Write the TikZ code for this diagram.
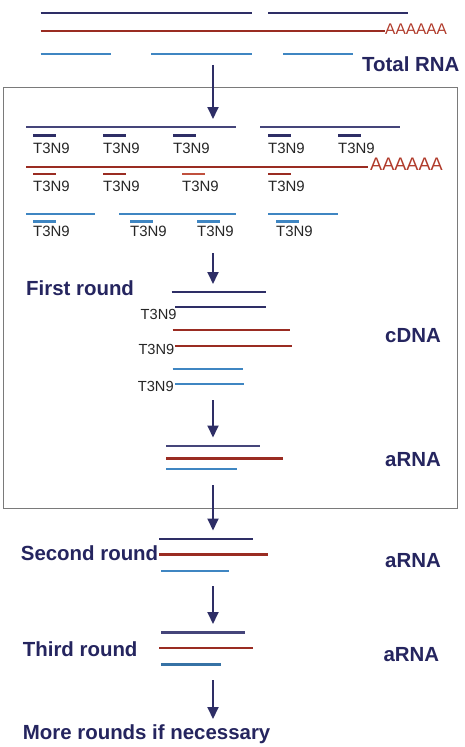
\documentclass[tikz,border=0pt]{standalone}
\usepackage{fontspec}
\setmainfont{Liberation Sans}
\usetikzlibrary{arrows.meta}
\definecolor{navyT}{HTML}{25255F}
\definecolor{navyL}{HTML}{2E2E66}
\definecolor{navyM}{HTML}{45457A}
\definecolor{redL}{HTML}{9A2C22}
\definecolor{redA}{HTML}{B03A2A}
\definecolor{redP}{HTML}{C0503E}
\definecolor{blueL}{HTML}{3F86C2}
\definecolor{boxC}{HTML}{7A7A7A}
\tikzset{
  navyline/.style={draw=navyL, line width=2.3bp},
  redline/.style={draw=redL, line width=2.3bp},
  blueline/.style={draw=blueL, line width=2.3bp},
  primer/.style={line width=2.8bp},
  flowarrow/.style={draw=navyL, line width=1.8bp, -{Triangle[width=11bp,length=12bp]}},
  boldlabel/.style={font=\fontsize{20.5}{24}\selectfont\bfseries, text=navyT, inner sep=0pt, anchor=base west},
  primlabel/.style={font=\fontsize{15}{17}\selectfont, text=black!85, inner sep=0pt, anchor=base west},
  polya/.style={text=redA, inner sep=0pt, anchor=base west},
}
\begin{document}
\begin{tikzpicture}[x=1bp,y=-1bp]
\path[use as bounding box, fill=white] (0,0) rectangle (465,747);

% ---------- Total RNA ----------
\draw[navyline] (40.7,12.7) -- (252,12.7);
\draw[navyline] (268,12.7) -- (408,12.7);
\draw[redline] (40.7,31) -- (385,31);
\node[polya, font=\fontsize{15.5}{17}\selectfont] (polyA1) at (385,35) {AAAAAA};
\draw[blueline] (40.7,54.3) -- (110.7,54.3);
\draw[blueline] (151,54.3) -- (251.7,54.3);
\draw[blueline] (283,54.3) -- (353,54.3);
\node[boldlabel] (total) at (362,71.7) {Total RNA};

% ---------- box ----------
\draw[draw=boxC, line width=1bp] (3.3,87.3) rectangle (457.5,508.3);

% arrow 1
\coordinate (a1s) at (213,65);
\coordinate (a1e) at (213,119);
\draw[flowarrow] (a1s) -- (a1e);

% navy template with primers
\draw[navyline, draw=navyM] (26,127.3) -- (236,127.3);
\draw[navyline, draw=navyM] (260,127.3) -- (400,127.3);
\foreach \x in {33,103,173,268,338}{
  \draw[navyline, primer] (\x,135.7) -- ++(23,0);
}
\node[primlabel] (p11) at (33,153) {T3N9};
\node[primlabel] (p12) at (103,153) {T3N9};
\node[primlabel] (p13) at (173,153) {T3N9};
\node[primlabel] (p14) at (268,153) {T3N9};
\node[primlabel] (p15) at (338,153) {T3N9};

% red template with primers
\draw[redline] (26,167.3) -- (368,167.3);
\node[polya, font=\fontsize{18.2}{20}\selectfont] (polyA2) at (370,170) {AAAAAA};
\foreach \x in {33,103,268}{
  \draw[redline, primer] (\x,174) -- ++(23,0);
}
\draw[draw=redP, line width=2bp] (182,174) -- ++(23,0);
\node[primlabel] (p21) at (33,191.5) {T3N9};
\node[primlabel] (p22) at (103,191.5) {T3N9};
\node[primlabel] (p23) at (182,191.5) {T3N9};
\node[primlabel] (p24) at (268,191.5) {T3N9};

% blue templates with primers
\draw[blueline] (26,214) -- (95,214);
\draw[blueline] (119,214) -- (236,214);
\draw[blueline] (268,214) -- (338,214);
\foreach \x in {33,130,197,276}{
  \draw[blueline, primer] (\x,221.7) -- ++(23,0);
}
\node[primlabel] (p31) at (33,236.5) {T3N9};
\node[primlabel] (p32) at (130,236.5) {T3N9};
\node[primlabel] (p33) at (197,236.5) {T3N9};
\node[primlabel] (p34) at (276,236.5) {T3N9};

% arrow 2
\coordinate (a2s) at (213,253);
\coordinate (a2e) at (213,284);
\draw[flowarrow] (a2s) -- (a2e);

% first round cDNA
\node[boldlabel] (first) at (26,295) {First round};
\draw[navyline] (171.7,291.7) -- (265.7,291.7);
\draw[navyline] (175,307.3) -- (265.7,307.3);
\node[primlabel, font=\fontsize{14.7}{17}\selectfont] (f1) at (140.5,319) {T3N9};
\draw[redline, line width=1.8bp] (172.7,330) -- (290,330);
\draw[redline, line width=1.8bp] (175,346) -- (291.7,346);
\node[primlabel, font=\fontsize{14.7}{17}\selectfont] (f2) at (138.3,354) {T3N9};
\draw[blueline, line width=1.8bp] (172.7,369.3) -- (243.3,369.3);
\draw[blueline, line width=1.8bp] (175,384.3) -- (244.3,384.3);
\node[primlabel, font=\fontsize{14.7}{17}\selectfont] (f3) at (137.7,391.7) {T3N9};
\node[boldlabel] (cdna) at (385,342.7) {cDNA};

% arrow 3
\coordinate (a3s) at (213,400);
\coordinate (a3e) at (213,437.5);
\draw[flowarrow] (a3s) -- (a3e);

% aRNA in box
\draw[navyline, draw=navyM, line width=2.8bp] (166,446) -- (260,446);
\draw[redline, line width=3bp] (166,458.7) -- (283.3,458.7);
\draw[blueline, line width=2bp] (166,469.3) -- (236.7,469.3);
\node[boldlabel] (arna1) at (385,466) {aRNA};

% arrow 4
\coordinate (a4s) at (213,485);
\coordinate (a4e) at (213,530.5);
\draw[flowarrow] (a4s) -- (a4e);

% second round
\draw[navyline] (159.3,539.3) -- (252.7,539.3);
\draw[redline, line width=2.5bp] (159.3,554.3) -- (267.7,554.3);
\draw[blueline, line width=2bp] (161,570.7) -- (229.3,570.7);
\node[boldlabel] (second) at (20.7,560) {Second round};
\node[boldlabel] (arna2) at (385,567) {aRNA};

% arrow 5
\coordinate (a5s) at (213,586);
\coordinate (a5e) at (213,624);
\draw[flowarrow] (a5s) -- (a5e);

% third round
\draw[navyline, draw=navyM, line width=2.8bp] (161,632.7) -- (245,632.7);
\draw[redline] (159.3,648.3) -- (252.7,648.3);
\draw[blueline, draw=blueL!85!black, line width=3bp] (161,664) -- (220.7,664);
\node[boldlabel] (third) at (22.7,656) {Third round};
\node[boldlabel] (arna3) at (383.3,661.7) {aRNA};

% arrow 6
\coordinate (a6s) at (213,680);
\coordinate (a6e) at (213,719);
\draw[flowarrow] (a6s) -- (a6e);

\node[boldlabel] (more) at (22.7,739.3) {More rounds if necessary};
\end{tikzpicture}
\end{document}
